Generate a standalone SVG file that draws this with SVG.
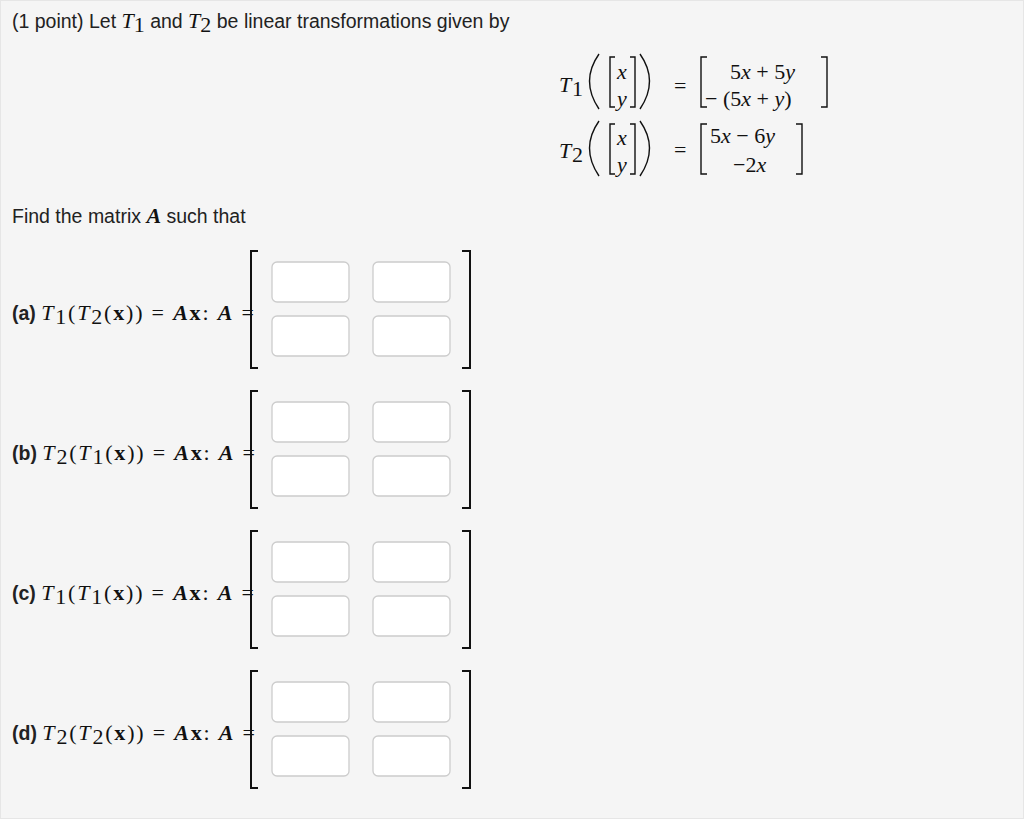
<svg xmlns="http://www.w3.org/2000/svg" width="1024" height="819" viewBox="0 0 1024 819">
<style>
.s{font-family:"Liberation Sans",Arial,sans-serif;font-size:19.5px;fill:#222}
.m{font-family:"Liberation Serif","Times New Roman",serif;font-size:22px;fill:#111}
.i{font-style:italic}
.b{font-weight:bold}
.n{font-weight:normal}
.box{fill:#fff;stroke:#ccc;stroke-width:1.3}
.br{fill:none;stroke:#111;stroke-width:2}
.t{stroke:#111;stroke-width:1.4;fill:none}
.lab{letter-spacing:1.8px}
</style>
<rect x="0" y="0" width="1024" height="819" fill="#f5f5f5"/>
<rect x="0.5" y="0.5" width="1023" height="818" fill="none" stroke="#e6e6e6"/>
<text class="s" x="12" y="28">(1 point) Let <tspan class="m i">T</tspan><tspan class="m" font-size="14" dy="4">1</tspan><tspan dy="-4"> and </tspan><tspan class="m i">T</tspan><tspan class="m" font-size="14" dy="4">2</tspan><tspan dy="-4"> be linear transformations given by</tspan></text>
<g id="formulas">
<text class="m i" x="559" y="92">T</text><text class="m" x="572" y="96" font-size="14">1</text>
<path class="t" d="M599 54 Q580 81 599 109"/><path class="t" d="M615 57 h-5 v50 h5"/>
<text class="m i" x="617" y="79">x</text><text class="m i" x="617" y="106">y</text>
<path class="t" d="M630 57 h5 v50 h-5"/><path class="t" d="M640 54 Q659 81 640 109"/>
<text class="m" x="674" y="93">=</text>
<path class="t" d="M707 57 h-6 v50 h6"/>
<text class="m" x="730" y="79"><tspan>5</tspan><tspan class="i">x</tspan><tspan> + 5</tspan><tspan class="i">y</tspan></text>
<text class="m" x="705" y="106"><tspan>− (5</tspan><tspan class="i">x</tspan><tspan> + </tspan><tspan class="i">y</tspan><tspan>)</tspan></text>
<path class="t" d="M821 57 h6 v50 h-6"/>
<text class="m i" x="559" y="158">T</text><text class="m" x="572" y="162" font-size="14">2</text>
<path class="t" d="M599 121 Q580 148 599 176"/><path class="t" d="M615 124 h-5 v50 h5"/>
<text class="m i" x="617" y="145">x</text><text class="m i" x="617" y="172">y</text>
<path class="t" d="M630 124 h5 v50 h-5"/><path class="t" d="M640 121 Q659 148 640 176"/>
<text class="m" x="674" y="157">=</text>
<path class="t" d="M707 124 h-6 v50 h6"/>
<text class="m" x="710" y="143"><tspan>5</tspan><tspan class="i">x</tspan><tspan> − 6</tspan><tspan class="i">y</tspan></text>
<text class="m" x="733" y="172"><tspan>−2</tspan><tspan class="i">x</tspan></text>
<path class="t" d="M796 124 h6 v50 h-6"/>
</g>
<text class="s" x="12" y="223">Find the matrix <tspan class="m i b">A</tspan> such that</text>
<defs>
<g id="mat">
<path class="br" d="M258 0 h-7 v117 h7"/>
<path class="br" d="M462 0 h8 v117 h-8"/>
<rect class="box" x="272" y="11" width="77" height="40" rx="5"/>
<rect class="box" x="373" y="11" width="77" height="40" rx="5"/>
<rect class="box" x="272" y="65" width="77" height="40" rx="5"/>
<rect class="box" x="373" y="65" width="77" height="40" rx="5"/>
</g>
</defs>
<g id="a"><use href="#mat" y="251"/>
<text class="s b" x="12" y="320" font-size="17.5">(a) <tspan class="lab"><tspan class="m i n" font-size="24">T</tspan><tspan class="m n" font-size="15" dy="4">1</tspan><tspan class="m n" font-size="24" dy="-4">(</tspan><tspan class="m i n" font-size="24">T</tspan><tspan class="m n" font-size="15" dy="4">2</tspan><tspan class="m n" font-size="24" dy="-4">(</tspan><tspan class="m b" font-size="24">x</tspan><tspan class="m n" font-size="24">)) = </tspan><tspan class="m i b" font-size="24">A</tspan><tspan class="m b" font-size="24">x</tspan><tspan class="m n" font-size="24">: </tspan><tspan class="m i b" font-size="24">A</tspan><tspan class="m n" font-size="24"> =</tspan></tspan></text></g>
<g id="b"><use href="#mat" y="391"/>
<text class="s b" x="12" y="460" font-size="17.5">(b) <tspan class="lab"><tspan class="m i n" font-size="24">T</tspan><tspan class="m n" font-size="15" dy="4">2</tspan><tspan class="m n" font-size="24" dy="-4">(</tspan><tspan class="m i n" font-size="24">T</tspan><tspan class="m n" font-size="15" dy="4">1</tspan><tspan class="m n" font-size="24" dy="-4">(</tspan><tspan class="m b" font-size="24">x</tspan><tspan class="m n" font-size="24">)) = </tspan><tspan class="m i b" font-size="24">A</tspan><tspan class="m b" font-size="24">x</tspan><tspan class="m n" font-size="24">: </tspan><tspan class="m i b" font-size="24">A</tspan><tspan class="m n" font-size="24"> =</tspan></tspan></text></g>
<g id="c"><use href="#mat" y="531"/>
<text class="s b" x="12" y="600" font-size="17.5">(c) <tspan class="lab"><tspan class="m i n" font-size="24">T</tspan><tspan class="m n" font-size="15" dy="4">1</tspan><tspan class="m n" font-size="24" dy="-4">(</tspan><tspan class="m i n" font-size="24">T</tspan><tspan class="m n" font-size="15" dy="4">1</tspan><tspan class="m n" font-size="24" dy="-4">(</tspan><tspan class="m b" font-size="24">x</tspan><tspan class="m n" font-size="24">)) = </tspan><tspan class="m i b" font-size="24">A</tspan><tspan class="m b" font-size="24">x</tspan><tspan class="m n" font-size="24">: </tspan><tspan class="m i b" font-size="24">A</tspan><tspan class="m n" font-size="24"> =</tspan></tspan></text></g>
<g id="d"><use href="#mat" y="671"/>
<text class="s b" x="12" y="740" font-size="17.5">(d) <tspan class="lab"><tspan class="m i n" font-size="24">T</tspan><tspan class="m n" font-size="15" dy="4">2</tspan><tspan class="m n" font-size="24" dy="-4">(</tspan><tspan class="m i n" font-size="24">T</tspan><tspan class="m n" font-size="15" dy="4">2</tspan><tspan class="m n" font-size="24" dy="-4">(</tspan><tspan class="m b" font-size="24">x</tspan><tspan class="m n" font-size="24">)) = </tspan><tspan class="m i b" font-size="24">A</tspan><tspan class="m b" font-size="24">x</tspan><tspan class="m n" font-size="24">: </tspan><tspan class="m i b" font-size="24">A</tspan><tspan class="m n" font-size="24"> =</tspan></tspan></text></g>
</svg>
